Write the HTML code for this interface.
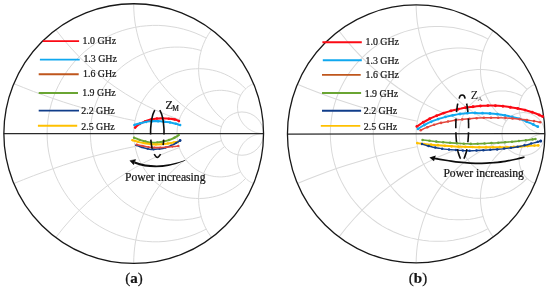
<!DOCTYPE html>
<html><head><meta charset="utf-8"><title>Smith chart</title>
<style>
html,body{margin:0;padding:0;background:#fff;}
svg{display:block;}
text{font-family:"Liberation Serif",serif;fill:#151515;stroke:#151515;stroke-width:0.22px;}
.ns{stroke:none;}
</style></head><body>
<svg width="550" height="290" viewBox="0 0 550 290">
<rect width="550" height="290" fill="#fff"/>
<g fill="none" stroke="#d9d9d9" stroke-width="1.0">
<path d="M206.3,38.1 L200.7,35.4 L195.0,32.9 L189.2,30.8 L183.3,29.1 L177.2,27.6 L171.1,26.6 L165.0,25.8 L158.8,25.4 L152.6,25.4 L146.4,25.8 L140.3,26.4 L134.2,27.5 L128.1,28.9 L122.2,30.6 L116.3,32.7 L110.6,35.1 L105.1,37.8 L99.7,40.8 L94.5,44.1 L89.4,47.8 L84.6,51.7 L80.1,55.9 L75.7,60.3 L71.7,65.0 L67.9,69.9 L64.4,75.0 L61.2,80.3 L58.3,85.8 L55.7,91.4 L53.5,97.2 L51.5,103.1 L50.0,109.0 L48.7,115.1 L47.8,121.2 L47.3,127.4 L47.1,133.6 L47.3,139.8 L47.8,146.0 L48.7,152.1 L50.0,158.2 L51.5,164.1 L53.5,170.0 L55.7,175.8 L58.3,181.4 L61.2,186.9 L64.4,192.2 L67.9,197.3 L71.7,202.2 L75.7,206.9 L80.1,211.3 L84.6,215.5 L89.4,219.4 L94.5,223.1 L99.7,226.4 L105.1,229.4 L110.6,232.1 L116.3,234.5 L122.2,236.6 L128.1,238.3 L134.2,239.7 L140.3,240.8 L146.4,241.4 L152.6,241.8 L158.8,241.8 L165.0,241.4 L171.1,240.6 L177.2,239.6 L183.3,238.1 L189.2,236.4 L195.0,234.3 L200.7,231.8 L206.3,229.1"/>
<path d="M201.2,50.5 L196.9,49.4 L192.5,48.4 L188.1,47.8 L183.7,47.3 L179.3,47.1 L174.8,47.1 L170.3,47.3 L165.9,47.7 L161.5,48.4 L157.1,49.3 L152.8,50.5 L148.6,51.8 L144.4,53.4 L140.3,55.2 L136.3,57.2 L132.4,59.4 L128.7,61.8 L125.0,64.3 L121.5,67.1 L118.2,70.1 L115.0,73.2 L112.0,76.4 L109.1,79.9 L106.4,83.4 L103.9,87.1 L101.7,91.0 L99.6,94.9 L97.7,98.9 L96.0,103.1 L94.5,107.3 L93.3,111.5 L92.2,115.9 L91.4,120.3 L90.9,124.7 L90.5,129.1 L90.4,133.6 L90.5,138.1 L90.9,142.5 L91.4,146.9 L92.2,151.3 L93.3,155.7 L94.5,159.9 L96.0,164.1 L97.7,168.3 L99.6,172.3 L101.7,176.2 L103.9,180.1 L106.4,183.8 L109.1,187.3 L112.0,190.8 L115.0,194.0 L118.2,197.1 L121.5,200.1 L125.0,202.9 L128.7,205.4 L132.4,207.8 L136.3,210.0 L140.3,212.0 L144.4,213.8 L148.6,215.4 L152.8,216.7 L157.1,217.9 L161.5,218.8 L165.9,219.5 L170.3,219.9 L174.8,220.1 L179.3,220.1 L183.7,219.9 L188.1,219.4 L192.5,218.8 L196.9,217.8 L201.2,216.7"/>
<path d="M245.6,88.8 L242.6,85.8 L239.3,83.0 L235.9,80.4 L232.3,78.1 L228.6,76.0 L224.7,74.1 L220.7,72.5 L216.6,71.2 L212.5,70.2 L208.2,69.4 L204.0,68.9 L199.7,68.7 L195.4,68.8 L191.1,69.1 L186.9,69.7 L182.7,70.7 L178.5,71.9 L174.5,73.3 L170.6,75.0 L166.8,77.0 L163.1,79.3 L159.6,81.7 L156.2,84.4 L153.1,87.3 L150.1,90.4 L147.4,93.7 L144.9,97.2 L142.6,100.8 L140.5,104.6 L138.7,108.5 L137.2,112.5 L136.0,116.6 L135.0,120.8 L134.3,125.0 L133.8,129.3 L133.7,133.6 L133.8,137.9 L134.3,142.2 L135.0,146.4 L136.0,150.6 L137.2,154.7 L138.7,158.7 L140.5,162.6 L142.6,166.4 L144.9,170.0 L147.4,173.5 L150.1,176.8 L153.1,179.9 L156.2,182.8 L159.6,185.5 L163.1,187.9 L166.8,190.2 L170.6,192.2 L174.5,193.9 L178.5,195.3 L182.7,196.5 L186.9,197.5 L191.1,198.1 L195.4,198.4 L199.7,198.5 L204.0,198.3 L208.2,197.8 L212.5,197.0 L216.6,196.0 L220.7,194.7 L224.7,193.1 L228.6,191.2 L232.3,189.1 L235.9,186.8 L239.3,184.2 L242.6,181.4 L245.6,178.4"/>
<path d="M240.6,95.4 L238.4,94.3 L236.1,93.3 L233.8,92.5 L231.4,91.8 L229.0,91.2 L226.6,90.8 L224.1,90.5 L221.7,90.3 L219.2,90.3 L216.7,90.5 L214.2,90.7 L211.8,91.2 L209.4,91.7 L207.0,92.4 L204.7,93.2 L202.4,94.2 L200.2,95.3 L198.0,96.5 L195.9,97.8 L193.9,99.3 L192.0,100.8 L190.2,102.5 L188.4,104.3 L186.8,106.2 L185.3,108.1 L183.9,110.2 L182.6,112.3 L181.4,114.5 L180.4,116.7 L179.5,119.0 L178.7,121.4 L178.1,123.8 L177.6,126.2 L177.3,128.7 L177.1,131.1 L177.0,133.6 L177.1,136.1 L177.3,138.5 L177.6,141.0 L178.1,143.4 L178.7,145.8 L179.5,148.2 L180.4,150.5 L181.4,152.7 L182.6,154.9 L183.9,157.0 L185.3,159.1 L186.8,161.0 L188.4,162.9 L190.2,164.7 L192.0,166.4 L193.9,167.9 L195.9,169.4 L198.0,170.7 L200.2,171.9 L202.4,173.0 L204.7,174.0 L207.0,174.8 L209.4,175.5 L211.8,176.0 L214.2,176.5 L216.7,176.7 L219.2,176.9 L221.7,176.9 L224.1,176.7 L226.6,176.4 L229.0,176.0 L231.4,175.4 L233.8,174.7 L236.1,173.9 L238.4,172.9 L240.6,171.8"/>
<circle cx="241.91" cy="133.6" r="21.64"/>
<path d="M13.8,83.7 L23.6,87.6 L33.5,91.5 L43.4,95.1 L53.4,98.6 L63.4,102.0 L73.5,105.2 L83.6,108.2 L93.8,111.0 L104.1,113.7 L114.3,116.2 L124.6,118.6 L135.0,120.7"/>
<path d="M13.8,183.5 L23.6,179.6 L33.5,175.7 L43.4,172.1 L53.4,168.6 L63.4,165.2 L73.5,162.0 L83.6,159.0 L93.8,156.2 L104.1,153.5 L114.3,151.0 L124.6,148.6 L135.0,146.5"/>
<path d="M55.8,29.7 L63.2,39.1 L71.0,48.1 L79.2,56.8 L87.7,65.0 L96.7,72.9 L106.0,80.4 L115.7,87.4 L125.6,93.9 L135.9,100.0 L146.4,105.7 L157.1,110.8 L168.1,115.4 L179.3,119.6"/>
<path d="M55.8,237.5 L63.2,228.1 L71.0,219.1 L79.2,210.4 L87.7,202.2 L96.7,194.3 L106.0,186.8 L115.7,179.8 L125.6,173.3 L135.9,167.2 L146.4,161.5 L157.1,156.4 L168.1,151.8 L179.3,147.6"/>
<path d="M133.7,3.7 L133.8,9.5 L134.2,15.2 L134.8,21.0 L135.7,26.6 L136.9,32.3 L138.3,37.9 L139.9,43.4 L141.8,48.8 L143.9,54.2 L146.2,59.4 L148.8,64.6 L151.6,69.6 L154.6,74.5 L157.9,79.2 L161.3,83.8 L165.0,88.3 L168.8,92.6 L172.8,96.7 L177.1,100.6 L181.4,104.3 L186.0,107.9 L190.6,111.2 L195.5,114.3 L200.4,117.2 L205.5,119.9 L210.7,122.4 L216.0,124.6 L221.4,126.6"/>
<path d="M133.7,263.4 L133.8,257.7 L134.2,252.0 L134.8,246.2 L135.7,240.6 L136.9,234.9 L138.3,229.3 L139.9,223.8 L141.8,218.4 L143.9,213.0 L146.2,207.8 L148.8,202.6 L151.6,197.6 L154.6,192.7 L157.9,188.0 L161.3,183.4 L165.0,178.9 L168.8,174.6 L172.8,170.5 L177.1,166.6 L181.4,162.9 L186.0,159.3 L190.6,156.0 L195.5,152.9 L200.4,150.0 L205.5,147.3 L210.7,144.8 L216.0,142.6 L221.4,140.6"/>
<path d="M211.6,29.7 L210.0,32.0 L208.4,34.4 L207.0,36.8 L205.6,39.3 L204.4,41.9 L203.3,44.5 L202.3,47.1 L201.4,49.8 L200.7,52.6 L200.0,55.3 L199.5,58.1 L199.1,60.9 L198.8,63.7 L198.7,66.6 L198.6,69.4 L198.7,72.2 L198.9,75.0 L199.3,77.9 L199.7,80.7 L200.3,83.4 L201.0,86.2 L201.8,88.9 L202.8,91.6 L203.8,94.2 L205.0,96.8 L206.3,99.3 L207.7,101.8 L209.2,104.2 L210.8,106.5 L212.5,108.8 L214.3,111.0 L216.2,113.1 L218.1,115.1 L220.2,117.0 L222.4,118.9 L224.6,120.6"/>
<path d="M211.6,237.5 L210.0,235.2 L208.4,232.8 L207.0,230.4 L205.6,227.9 L204.4,225.3 L203.3,222.7 L202.3,220.1 L201.4,217.4 L200.7,214.6 L200.0,211.9 L199.5,209.1 L199.1,206.3 L198.8,203.5 L198.7,200.6 L198.6,197.8 L198.7,195.0 L198.9,192.2 L199.3,189.3 L199.7,186.5 L200.3,183.8 L201.0,181.0 L201.8,178.3 L202.8,175.6 L203.8,173.0 L205.0,170.4 L206.3,167.9 L207.7,165.4 L209.2,163.0 L210.8,160.7 L212.5,158.4 L214.3,156.2 L216.2,154.1 L218.1,152.1 L220.2,150.2 L222.4,148.3 L224.6,146.6"/>
<path d="M253.6,83.7 L252.5,84.1 L251.5,84.6 L250.5,85.2 L249.5,85.8 L248.5,86.4 L247.6,87.1 L246.7,87.8 L245.9,88.6 L245.0,89.4 L244.2,90.3 L243.5,91.1 L242.8,92.0 L242.1,93.0 L241.5,93.9 L240.9,94.9 L240.4,95.9 L239.9,97.0 L239.4,98.0 L239.0,99.1 L238.7,100.2 L238.4,101.3 L238.1,102.4 L237.9,103.6 L237.7,104.7 L237.6,105.9 L237.6,107.0 L237.6,108.2 L237.6,109.3 L237.7,110.4 L237.9,111.6 L238.1,112.7 L238.3,113.8 L238.6,115.0 L239.0,116.1 L239.4,117.1 L239.8,118.2 L240.3,119.2 L240.9,120.3 L241.4,121.2 L242.1,122.2 L242.7,123.1 L243.4,124.1 L244.2,124.9 L245.0,125.8 L245.8,126.6 L246.6,127.3 L247.5,128.1 L248.5,128.8 L249.4,129.4 L250.4,130.0 L251.4,130.6 L252.4,131.1 L253.5,131.6 L254.5,132.0 L255.6,132.4 L256.7,132.7 L257.8,133.0 L259.0,133.2 L260.1,133.4 L261.3,133.5 L262.4,133.6 L263.5,133.6"/>
<path d="M253.6,183.5 L252.5,183.1 L251.5,182.6 L250.5,182.0 L249.5,181.4 L248.5,180.8 L247.6,180.1 L246.7,179.4 L245.9,178.6 L245.0,177.8 L244.2,176.9 L243.5,176.1 L242.8,175.2 L242.1,174.2 L241.5,173.3 L240.9,172.3 L240.4,171.3 L239.9,170.2 L239.4,169.2 L239.0,168.1 L238.7,167.0 L238.4,165.9 L238.1,164.8 L237.9,163.6 L237.7,162.5 L237.6,161.3 L237.6,160.2 L237.6,159.0 L237.6,157.9 L237.7,156.8 L237.9,155.6 L238.1,154.5 L238.3,153.4 L238.6,152.2 L239.0,151.1 L239.4,150.1 L239.8,149.0 L240.3,148.0 L240.9,146.9 L241.4,146.0 L242.1,145.0 L242.7,144.1 L243.4,143.1 L244.2,142.3 L245.0,141.4 L245.8,140.6 L246.6,139.9 L247.5,139.1 L248.5,138.4 L249.4,137.8 L250.4,137.2 L251.4,136.6 L252.4,136.1 L253.5,135.6 L254.5,135.2 L255.6,134.8 L256.7,134.5 L257.8,134.2 L259.0,134.0 L260.1,133.8 L261.3,133.7 L262.4,133.6 L263.5,133.6"/>
</g>
<line x1="3.8" y1="133.7" x2="263.6" y2="133.7" stroke="#2a2a2a" stroke-width="1.25"/>
<circle cx="133.7" cy="133.6" r="129.85" fill="none" stroke="#181818" stroke-width="1.3"/>
<g transform="translate(0,133.9) scale(1,1.0018) translate(0,-133.9)"><g fill="none" stroke="#d9d9d9" stroke-width="1.0">
<path d="M488.1,39.3 L482.6,36.5 L476.9,34.1 L471.2,32.0 L465.3,30.3 L459.3,28.9 L453.3,27.8 L447.2,27.1 L441.0,26.7 L434.9,26.7 L428.8,27.0 L422.7,27.7 L416.6,28.7 L410.6,30.1 L404.7,31.8 L398.9,33.9 L393.3,36.2 L387.8,38.9 L382.4,41.9 L377.2,45.2 L372.3,48.8 L367.5,52.7 L363.0,56.9 L358.7,61.3 L354.7,65.9 L350.9,70.7 L347.4,75.8 L344.3,81.1 L341.4,86.5 L338.8,92.1 L336.6,97.8 L334.7,103.6 L333.1,109.6 L331.9,115.6 L331.1,121.6 L330.5,127.8 L330.3,133.9 L330.5,140.0 L331.1,146.2 L331.9,152.2 L333.1,158.2 L334.7,164.2 L336.6,170.0 L338.8,175.7 L341.4,181.3 L344.3,186.7 L347.4,192.0 L350.9,197.1 L354.7,201.9 L358.7,206.5 L363.0,210.9 L367.5,215.1 L372.3,219.0 L377.2,222.6 L382.4,225.9 L387.8,228.9 L393.3,231.6 L398.9,233.9 L404.7,236.0 L410.6,237.7 L416.6,239.1 L422.7,240.1 L428.8,240.8 L434.9,241.1 L441.0,241.1 L447.2,240.7 L453.3,240.0 L459.3,238.9 L465.3,237.5 L471.2,235.8 L476.9,233.7 L482.6,231.3 L488.1,228.5"/>
<path d="M483.1,51.5 L478.8,50.4 L474.5,49.5 L470.1,48.8 L465.7,48.4 L461.3,48.1 L456.9,48.1 L452.5,48.4 L448.1,48.8 L443.7,49.5 L439.4,50.4 L435.1,51.5 L430.9,52.9 L426.8,54.4 L422.7,56.2 L418.7,58.2 L414.9,60.3 L411.2,62.7 L407.6,65.3 L404.1,68.0 L400.8,70.9 L397.6,74.0 L394.6,77.2 L391.8,80.6 L389.1,84.2 L386.7,87.8 L384.4,91.6 L382.3,95.5 L380.4,99.5 L378.8,103.6 L377.3,107.8 L376.1,112.0 L375.1,116.3 L374.3,120.7 L373.7,125.1 L373.4,129.5 L373.2,133.9 L373.4,138.3 L373.7,142.7 L374.3,147.1 L375.1,151.5 L376.1,155.8 L377.3,160.0 L378.8,164.2 L380.4,168.3 L382.3,172.3 L384.4,176.2 L386.7,180.0 L389.1,183.6 L391.8,187.2 L394.6,190.6 L397.6,193.8 L400.8,196.9 L404.1,199.8 L407.6,202.5 L411.2,205.1 L414.9,207.5 L418.7,209.6 L422.7,211.6 L426.8,213.4 L430.9,214.9 L435.1,216.3 L439.4,217.4 L443.7,218.3 L448.1,219.0 L452.5,219.4 L456.9,219.7 L461.3,219.7 L465.7,219.4 L470.1,219.0 L474.5,218.3 L478.8,217.4 L483.1,216.3"/>
<path d="M527.1,89.5 L524.1,86.5 L520.8,83.8 L517.4,81.2 L513.9,78.9 L510.2,76.8 L506.3,75.0 L502.4,73.4 L498.3,72.1 L494.2,71.0 L490.0,70.3 L485.8,69.8 L481.5,69.6 L477.3,69.6 L473.1,70.0 L468.8,70.6 L464.7,71.5 L460.6,72.7 L456.6,74.2 L452.7,75.9 L448.9,77.8 L445.3,80.0 L441.8,82.5 L438.5,85.1 L435.4,88.0 L432.4,91.1 L429.7,94.4 L427.2,97.8 L424.9,101.4 L422.9,105.2 L421.1,109.0 L419.6,113.0 L418.4,117.1 L417.4,121.2 L416.7,125.4 L416.3,129.6 L416.1,133.9 L416.3,138.2 L416.7,142.4 L417.4,146.6 L418.4,150.7 L419.6,154.8 L421.1,158.8 L422.9,162.6 L424.9,166.4 L427.2,170.0 L429.7,173.4 L432.4,176.7 L435.4,179.8 L438.5,182.7 L441.8,185.3 L445.3,187.8 L448.9,190.0 L452.7,191.9 L456.6,193.6 L460.6,195.1 L464.7,196.3 L468.8,197.2 L473.1,197.8 L477.3,198.2 L481.5,198.2 L485.8,198.0 L490.0,197.5 L494.2,196.8 L498.3,195.7 L502.4,194.4 L506.3,192.8 L510.2,191.0 L513.9,188.9 L517.4,186.6 L520.8,184.0 L524.1,181.3 L527.1,178.3"/>
<path d="M522.1,96.0 L519.9,95.0 L517.7,94.0 L515.4,93.2 L513.0,92.5 L510.6,91.9 L508.2,91.5 L505.8,91.2 L503.3,91.0 L500.9,91.0 L498.4,91.1 L496.0,91.4 L493.6,91.8 L491.2,92.4 L488.8,93.1 L486.5,93.9 L484.2,94.8 L482.0,95.9 L479.9,97.1 L477.8,98.4 L475.8,99.9 L473.9,101.4 L472.1,103.1 L470.4,104.8 L468.8,106.7 L467.3,108.6 L465.9,110.7 L464.6,112.8 L463.5,114.9 L462.4,117.2 L461.6,119.5 L460.8,121.8 L460.2,124.2 L459.7,126.6 L459.3,129.0 L459.1,131.4 L459.0,133.9 L459.1,136.4 L459.3,138.8 L459.7,141.2 L460.2,143.6 L460.8,146.0 L461.6,148.3 L462.4,150.6 L463.5,152.9 L464.6,155.0 L465.9,157.1 L467.3,159.2 L468.8,161.1 L470.4,163.0 L472.1,164.7 L473.9,166.4 L475.8,167.9 L477.8,169.4 L479.9,170.7 L482.0,171.9 L484.2,173.0 L486.5,173.9 L488.8,174.7 L491.2,175.4 L493.6,176.0 L496.0,176.4 L498.4,176.7 L500.9,176.8 L503.3,176.8 L505.8,176.6 L508.2,176.3 L510.6,175.9 L513.0,175.3 L515.4,174.6 L517.7,173.8 L519.9,172.8 L522.1,171.8"/>
<circle cx="523.40" cy="133.9" r="21.45"/>
<path d="M297.4,84.4 L307.1,88.4 L316.8,92.1 L326.7,95.8 L336.5,99.3 L346.5,102.6 L356.5,105.7 L366.5,108.7 L376.6,111.5 L386.8,114.2 L396.9,116.7 L407.2,119.0 L417.4,121.2"/>
<path d="M297.4,183.4 L307.1,179.4 L316.8,175.7 L326.7,172.0 L336.5,168.5 L346.5,165.2 L356.5,162.1 L366.5,159.1 L376.6,156.3 L386.8,153.6 L396.9,151.1 L407.2,148.8 L417.4,146.6"/>
<path d="M338.9,30.9 L346.2,40.2 L354.0,49.2 L362.1,57.8 L370.6,66.0 L379.5,73.8 L388.7,81.1 L398.3,88.1 L408.1,94.6 L418.3,100.6 L428.7,106.2 L439.4,111.3 L450.3,115.9 L461.4,120.0"/>
<path d="M338.9,236.9 L346.2,227.6 L354.0,218.6 L362.1,210.0 L370.6,201.8 L379.5,194.0 L388.7,186.7 L398.3,179.7 L408.1,173.2 L418.3,167.2 L428.7,161.6 L439.4,156.5 L450.3,151.9 L461.4,147.8"/>
<path d="M416.1,5.2 L416.3,10.9 L416.7,16.6 L417.3,22.3 L418.2,27.9 L419.3,33.5 L420.7,39.0 L422.3,44.5 L424.1,49.9 L426.2,55.2 L428.6,60.4 L431.1,65.5 L433.9,70.4 L436.9,75.3 L440.1,80.0 L443.5,84.6 L447.2,89.0 L451.0,93.2 L454.9,97.3 L459.1,101.2 L463.5,104.9 L467.9,108.4 L472.6,111.7 L477.4,114.8 L482.3,117.7 L487.3,120.3 L492.5,122.8 L497.8,125.0 L503.1,126.9"/>
<path d="M416.1,262.6 L416.3,256.9 L416.7,251.2 L417.3,245.5 L418.2,239.9 L419.3,234.3 L420.7,228.8 L422.3,223.3 L424.1,217.9 L426.2,212.6 L428.6,207.4 L431.1,202.3 L433.9,197.4 L436.9,192.5 L440.1,187.8 L443.5,183.2 L447.2,178.8 L451.0,174.6 L454.9,170.5 L459.1,166.6 L463.5,162.9 L467.9,159.4 L472.6,156.1 L477.4,153.0 L482.3,150.1 L487.3,147.5 L492.5,145.0 L497.8,142.8 L503.1,140.9"/>
<path d="M493.4,30.9 L491.7,33.2 L490.2,35.6 L488.8,38.0 L487.4,40.5 L486.2,43.0 L485.1,45.6 L484.1,48.2 L483.3,50.9 L482.5,53.6 L481.9,56.3 L481.4,59.1 L481.0,61.9 L480.7,64.6 L480.5,67.5 L480.5,70.3 L480.6,73.1 L480.8,75.9 L481.1,78.7 L481.6,81.4 L482.2,84.2 L482.9,86.9 L483.7,89.6 L484.6,92.2 L485.7,94.8 L486.8,97.4 L488.1,99.9 L489.5,102.3 L491.0,104.7 L492.5,107.0 L494.2,109.3 L496.0,111.5 L497.9,113.5 L499.9,115.5 L501.9,117.5 L504.0,119.3 L506.2,121.0"/>
<path d="M493.4,236.9 L491.7,234.6 L490.2,232.2 L488.8,229.8 L487.4,227.3 L486.2,224.8 L485.1,222.2 L484.1,219.6 L483.3,216.9 L482.5,214.2 L481.9,211.5 L481.4,208.7 L481.0,205.9 L480.7,203.2 L480.5,200.3 L480.5,197.5 L480.6,194.7 L480.8,191.9 L481.1,189.1 L481.6,186.4 L482.2,183.6 L482.9,180.9 L483.7,178.2 L484.6,175.6 L485.7,173.0 L486.8,170.4 L488.1,167.9 L489.5,165.5 L491.0,163.1 L492.5,160.8 L494.2,158.5 L496.0,156.3 L497.9,154.3 L499.9,152.3 L501.9,150.3 L504.0,148.5 L506.2,146.8"/>
<path d="M534.9,84.4 L533.9,84.9 L532.9,85.4 L531.9,85.9 L530.9,86.5 L530.0,87.2 L529.1,87.8 L528.2,88.6 L527.3,89.3 L526.5,90.1 L525.7,90.9 L525.0,91.8 L524.3,92.7 L523.6,93.6 L523.0,94.6 L522.4,95.6 L521.9,96.6 L521.4,97.6 L520.9,98.6 L520.5,99.7 L520.2,100.8 L519.9,101.9 L519.6,103.0 L519.4,104.1 L519.3,105.3 L519.2,106.4 L519.1,107.5 L519.1,108.7 L519.2,109.8 L519.3,111.0 L519.4,112.1 L519.6,113.2 L519.9,114.3 L520.2,115.4 L520.5,116.5 L520.9,117.6 L521.3,118.6 L521.8,119.7 L522.4,120.7 L522.9,121.7 L523.5,122.6 L524.2,123.5 L524.9,124.4 L525.7,125.3 L526.4,126.1 L527.2,126.9 L528.1,127.7 L529.0,128.4 L529.9,129.1 L530.8,129.7 L531.8,130.3 L532.8,130.9 L533.8,131.4 L534.9,131.9 L535.9,132.3 L537.0,132.7 L538.1,133.0 L539.2,133.3 L540.3,133.5 L541.4,133.7 L542.6,133.8 L543.7,133.9 L544.8,133.9"/>
<path d="M534.9,183.4 L533.9,182.9 L532.9,182.4 L531.9,181.9 L530.9,181.3 L530.0,180.6 L529.1,180.0 L528.2,179.2 L527.3,178.5 L526.5,177.7 L525.7,176.9 L525.0,176.0 L524.3,175.1 L523.6,174.2 L523.0,173.2 L522.4,172.2 L521.9,171.2 L521.4,170.2 L520.9,169.2 L520.5,168.1 L520.2,167.0 L519.9,165.9 L519.6,164.8 L519.4,163.7 L519.3,162.5 L519.2,161.4 L519.1,160.3 L519.1,159.1 L519.2,158.0 L519.3,156.8 L519.4,155.7 L519.6,154.6 L519.9,153.5 L520.2,152.4 L520.5,151.3 L520.9,150.2 L521.3,149.2 L521.8,148.1 L522.4,147.1 L522.9,146.1 L523.5,145.2 L524.2,144.3 L524.9,143.4 L525.7,142.5 L526.4,141.7 L527.2,140.9 L528.1,140.1 L529.0,139.4 L529.9,138.7 L530.8,138.1 L531.8,137.5 L532.8,136.9 L533.8,136.4 L534.9,135.9 L535.9,135.5 L537.0,135.1 L538.1,134.8 L539.2,134.5 L540.3,134.3 L541.4,134.1 L542.6,134.0 L543.7,133.9 L544.8,133.9"/>
</g>
<line x1="287.4" y1="134.1" x2="544.8" y2="133.55" stroke="#2a2a2a" stroke-width="1.25"/>
<circle cx="416.15" cy="133.9" r="128.7" fill="none" stroke="#181818" stroke-width="1.3"/></g>
<line x1="42.8" y1="41.1" x2="79.1" y2="41.1" stroke="#fb0a14" stroke-width="1.9"/>
<text x="82.6" y="43.6" font-size="9.9">1.0 GHz</text>
<line x1="39.9" y1="59.6" x2="79.7" y2="59.6" stroke="#10a8ef" stroke-width="1.9"/>
<text x="83.4" y="62.3" font-size="9.9">1.3 GHz</text>
<line x1="38.7" y1="74.3" x2="78.7" y2="74.3" stroke="#bf561c" stroke-width="1.9"/>
<text x="83.0" y="76.8" font-size="9.9">1.6 GHz</text>
<line x1="38.7" y1="93.0" x2="78.0" y2="93.0" stroke="#6aa533" stroke-width="1.9"/>
<text x="82.2" y="96.4" font-size="9.9">1.9 GHz</text>
<line x1="38.7" y1="110.6" x2="79.0" y2="110.6" stroke="#103d8a" stroke-width="1.9"/>
<text x="81.3" y="114.0" font-size="9.9">2.2 GHz</text>
<line x1="37.9" y1="125.7" x2="77.2" y2="125.7" stroke="#ffc000" stroke-width="1.9"/>
<text x="81.3" y="129.5" font-size="9.9">2.5 GHz</text>
<line x1="322.4" y1="42.2" x2="361.8" y2="42.2" stroke="#fb0a14" stroke-width="1.9"/>
<text x="365.5" y="44.7" font-size="9.9">1.0 GHz</text>
<line x1="322.8" y1="60.2" x2="361.8" y2="60.2" stroke="#10a8ef" stroke-width="1.9"/>
<text x="365.5" y="63.6" font-size="9.9">1.3 GHz</text>
<line x1="322.0" y1="74.9" x2="360.7" y2="74.9" stroke="#bf561c" stroke-width="1.9"/>
<text x="365.5" y="77.5" font-size="9.9">1.6 GHz</text>
<line x1="322.0" y1="93.0" x2="361.1" y2="93.0" stroke="#6aa533" stroke-width="1.9"/>
<text x="364.7" y="96.6" font-size="9.9">1.9 GHz</text>
<line x1="322.0" y1="110.8" x2="361.1" y2="110.8" stroke="#103d8a" stroke-width="1.9"/>
<text x="363.8" y="114.4" font-size="9.9">2.2 GHz</text>
<line x1="320.8" y1="125.9" x2="360.3" y2="125.9" stroke="#ffc000" stroke-width="1.9"/>
<text x="363.8" y="129.6" font-size="9.9">2.5 GHz</text>
<path d="M134.0,137.7 C134.8,138.0 137.2,139.0 138.9,139.6 C140.6,140.2 142.6,140.8 144.4,141.3 C146.2,141.8 148.0,142.2 149.8,142.4 C151.6,142.6 153.5,142.8 155.3,142.7 C157.1,142.6 158.9,142.3 160.7,142.0 C162.5,141.7 164.4,141.4 166.2,140.9 C168.0,140.4 170.0,139.8 171.6,139.1 C173.2,138.4 174.8,137.6 176.0,136.9 C177.2,136.2 178.2,135.4 178.7,135.1" fill="none" stroke="#6aa533" stroke-width="2.0" stroke-linecap="round" stroke-linejoin="round"/><g fill="#6aa533"><circle cx="134.0" cy="137.7" r="1.15"/><circle cx="139.6" cy="139.8" r="1.15"/><circle cx="145.4" cy="141.5" r="1.15"/><circle cx="151.3" cy="142.5" r="1.15"/><circle cx="157.3" cy="142.4" r="1.15"/><circle cx="163.2" cy="141.5" r="1.15"/><circle cx="169.0" cy="140.0" r="1.15"/><circle cx="174.5" cy="137.7" r="1.15"/><circle cx="178.7" cy="135.1" r="1.15"/></g>
<path d="M132.4,140.2 C133.5,140.5 136.9,141.6 138.9,142.1 C140.9,142.6 142.6,142.9 144.4,143.2 C146.2,143.5 148.0,143.8 149.8,144.0 C151.6,144.2 153.5,144.3 155.3,144.4 C157.1,144.5 158.9,144.4 160.7,144.3 C162.5,144.2 164.4,144.0 166.2,143.8 C168.0,143.6 170.0,143.2 171.6,142.9 C173.2,142.6 174.9,142.3 176.0,142.1 C177.1,141.9 177.8,141.9 178.2,141.8" fill="none" stroke="#ffc000" stroke-width="2.0" stroke-linecap="round" stroke-linejoin="round"/><g fill="#ffc000"><circle cx="132.4" cy="140.2" r="1.15"/><circle cx="138.2" cy="141.9" r="1.15"/><circle cx="144.0" cy="143.1" r="1.15"/><circle cx="150.0" cy="144.0" r="1.15"/><circle cx="155.9" cy="144.4" r="1.15"/><circle cx="161.9" cy="144.2" r="1.15"/><circle cx="167.9" cy="143.5" r="1.15"/><circle cx="173.8" cy="142.5" r="1.15"/><circle cx="178.2" cy="141.8" r="1.15"/></g>
<path d="M136.2,145.3 C136.8,145.5 138.6,146.2 140.0,146.7 C141.4,147.2 142.8,147.7 144.4,148.1 C146.0,148.5 148.4,149.0 149.8,149.2 C151.2,149.4 151.8,149.4 153.1,149.4 C154.4,149.4 155.8,149.3 157.4,149.1 C159.0,148.9 161.1,148.8 162.9,148.4 C164.7,148.0 166.7,147.3 168.3,146.7 C169.9,146.1 171.2,145.6 172.7,144.9 C174.2,144.2 175.9,143.1 177.1,142.4 C178.3,141.7 179.6,140.8 180.1,140.5" fill="none" stroke="#103d8a" stroke-width="1.5" stroke-linecap="round" stroke-linejoin="round"/><g fill="#103d8a"><circle cx="136.2" cy="145.3" r="1.05"/><circle cx="141.9" cy="147.3" r="1.05"/><circle cx="147.7" cy="148.8" r="1.05"/><circle cx="153.6" cy="149.4" r="1.05"/><circle cx="159.6" cy="148.8" r="1.05"/><circle cx="165.4" cy="147.6" r="1.05"/><circle cx="171.1" cy="145.6" r="1.05"/><circle cx="176.4" cy="142.8" r="1.05"/><circle cx="180.1" cy="140.5" r="1.05"/></g>
<path d="M136.7,144.5 C137.4,144.7 139.5,145.2 141.1,145.6 C142.7,146.0 144.7,146.4 146.5,146.7 C148.3,147.0 150.2,147.3 152.0,147.5 C153.8,147.7 155.6,147.6 157.4,147.6 C159.2,147.6 161.1,147.6 162.9,147.5 C164.7,147.4 166.5,147.2 168.3,147.0 C170.1,146.8 172.1,146.7 173.8,146.5 C175.5,146.3 177.6,146.1 178.4,146.0" fill="none" stroke="#e2473d" stroke-width="1.6" stroke-linecap="round" stroke-linejoin="round"/><g fill="#e2473d"><circle cx="136.7" cy="144.5" r="1.05"/><circle cx="142.5" cy="145.9" r="1.05"/><circle cx="148.4" cy="147.0" r="1.05"/><circle cx="154.4" cy="147.5" r="1.05"/><circle cx="160.4" cy="147.5" r="1.05"/><circle cx="166.4" cy="147.2" r="1.05"/><circle cx="172.4" cy="146.6" r="1.05"/><circle cx="178.3" cy="146.0" r="1.05"/><circle cx="178.4" cy="146.0" r="1.05"/></g>
<path d="M135.1,127.6 C135.7,127.1 137.3,125.4 138.9,124.4 C140.5,123.4 142.6,122.4 144.4,121.6 C146.2,120.8 148.0,120.3 149.8,119.8 C151.6,119.3 153.5,118.9 155.3,118.7 C157.1,118.5 158.9,118.4 160.7,118.4 C162.5,118.4 164.4,118.4 166.2,118.5 C168.0,118.6 170.0,118.7 171.6,118.9 C173.2,119.1 174.8,119.4 176.0,119.8 C177.2,120.2 178.5,120.9 179.0,121.1" fill="none" stroke="#fb0a14" stroke-width="2.1" stroke-linecap="round" stroke-linejoin="round"/><g fill="#fb0a14"><circle cx="135.1" cy="127.6" r="1.25"/><circle cx="139.8" cy="123.9" r="1.25"/><circle cx="145.2" cy="121.3" r="1.25"/><circle cx="150.9" cy="119.6" r="1.25"/><circle cx="156.9" cy="118.6" r="1.25"/><circle cx="162.9" cy="118.4" r="1.25"/><circle cx="168.8" cy="118.7" r="1.25"/><circle cx="174.8" cy="119.5" r="1.25"/><circle cx="179.0" cy="121.1" r="1.25"/></g>
<path d="M134.5,124.9 C135.2,124.7 137.2,124.0 138.9,123.6 C140.6,123.1 142.6,122.6 144.4,122.2 C146.2,121.8 148.0,121.5 149.8,121.3 C151.6,121.1 153.5,121.1 155.3,121.1 C157.1,121.1 158.9,121.1 160.7,121.3 C162.5,121.5 164.4,121.8 166.2,122.0 C168.0,122.2 170.0,122.4 171.6,122.7 C173.2,123.0 174.6,123.4 176.0,123.8 C177.4,124.2 179.4,124.9 180.1,125.1" fill="none" stroke="#10a8ef" stroke-width="2.1" stroke-linecap="round" stroke-linejoin="round"/><g fill="#10a8ef"><circle cx="134.5" cy="124.9" r="1.25"/><circle cx="140.3" cy="123.3" r="1.25"/><circle cx="146.1" cy="121.9" r="1.25"/><circle cx="152.1" cy="121.2" r="1.25"/><circle cx="158.1" cy="121.2" r="1.25"/><circle cx="164.0" cy="121.7" r="1.25"/><circle cx="170.0" cy="122.5" r="1.25"/><circle cx="175.8" cy="123.8" r="1.25"/><circle cx="180.1" cy="125.1" r="1.25"/></g>
<circle cx="180.1" cy="140.5" r="1.4" fill="#103d8a"/>
<path d="M154.2,154.2 Q156.1,157.5 157.35,157.5 Q158.6,157.5 160.6,154.2 M150.6,134.5 L150.6,132.3 L150.6,130.1 L150.7,127.9 L150.9,125.8 L151.1,123.7 L151.3,121.7 L151.6,119.8 L152.0,118.0 L152.4,116.4 L152.8,114.8 L153.3,113.4 L153.8,112.2 L154.3,111.1 L154.8,110.2 M159.8,110.2 L160.3,111.1 L160.8,112.2 L161.3,113.4 L161.8,114.8 L162.2,116.4 L162.6,118.0 L163.0,119.8 L163.3,121.7 L163.5,123.7 L163.7,125.8 L163.9,127.9 L164.0,130.1 L164.0,132.3 L164.0,134.5 M150.8,139.6 L150.9,140.3 L151.0,141.0 L151.0,141.8 L151.1,142.5 L151.2,143.2 L151.3,143.8 L151.4,144.5 L151.5,145.2 L151.6,145.8 L151.7,146.5 L151.8,147.1 L151.9,147.7 L152.1,148.3 L152.2,148.9 M163.8,139.6 L163.7,140.0 L163.7,140.4 L163.7,140.8 L163.6,141.2 L163.6,141.6 L163.5,142.0 L163.5,142.4 L163.4,142.8 L163.4,143.2 L163.3,143.6 L163.3,144.0 L163.2,144.4 L163.2,144.7 L163.1,145.1" fill="none" stroke="#0d0d0d" stroke-width="1.6"/>
<path d="M185.3,160.0 Q157.5,170.0 134.9,161.6 L134.3,163.5 Q157.5,172.4 185.1,160.8 Z" fill="#0d0d0d"/>
<path d="M129.9,160.7 L135.6,159.5 L133.6,164.7 Z" fill="#0d0d0d" stroke="#0d0d0d" stroke-width="0.5" stroke-linejoin="round"/>
<text x="125" y="180.5" font-size="11.65" fill="#111">Power increasing</text>
<text x="165.6" y="108.8" font-size="12.2">Z<tspan font-size="7.5" dy="1.9" dx="-0.7">M</tspan></text>
<path d="M422.6,140.0 C423.8,140.1 427.3,140.5 429.6,140.8 C431.9,141.1 434.2,141.3 436.6,141.6 C439.0,141.8 441.4,142.1 443.7,142.3 C446.0,142.5 448.4,142.7 450.7,142.9 C453.0,143.1 455.3,143.3 457.7,143.4 C460.1,143.5 462.4,143.6 464.8,143.7 C467.2,143.8 470.0,144.0 472.0,144.0 C474.0,144.0 475.0,143.9 477.0,143.8 C479.0,143.7 481.8,143.6 484.1,143.5 C486.5,143.4 488.8,143.2 491.1,143.1 C493.4,143.0 495.8,142.9 498.1,142.8 C500.5,142.7 502.8,142.5 505.2,142.3 C507.6,142.1 509.9,141.9 512.2,141.7 C514.5,141.5 516.9,141.2 519.2,141.0 C521.6,140.8 523.6,140.5 526.3,140.2 C529.0,139.9 533.9,139.2 535.4,139.0" fill="none" stroke="#6aa533" stroke-width="1.6" stroke-linecap="round" stroke-linejoin="round"/><g fill="#6aa533"><circle cx="422.6" cy="140.0" r="1.3"/><circle cx="429.5" cy="140.8" r="1.3"/><circle cx="436.3" cy="141.6" r="1.3"/><circle cx="443.2" cy="142.2" r="1.3"/><circle cx="450.1" cy="142.8" r="1.3"/><circle cx="456.9" cy="143.3" r="1.3"/><circle cx="463.8" cy="143.7" r="1.3"/><circle cx="470.7" cy="143.9" r="1.3"/><circle cx="477.6" cy="143.8" r="1.3"/><circle cx="484.5" cy="143.5" r="1.3"/><circle cx="491.4" cy="143.1" r="1.3"/><circle cx="498.3" cy="142.8" r="1.3"/><circle cx="505.2" cy="142.3" r="1.3"/><circle cx="512.0" cy="141.7" r="1.3"/><circle cx="518.9" cy="141.0" r="1.3"/><circle cx="525.8" cy="140.3" r="1.3"/><circle cx="532.6" cy="139.4" r="1.3"/><circle cx="535.4" cy="139.0" r="1.3"/></g>
<path d="M417.3,143.1 C418.4,143.2 421.4,143.7 423.7,144.0 C425.9,144.3 428.4,144.5 430.8,144.7 C433.2,144.9 435.5,145.0 437.8,145.2 C440.1,145.4 442.5,145.6 444.8,145.8 C447.1,146.0 449.5,146.2 451.9,146.3 C454.2,146.5 456.6,146.6 458.9,146.7 C461.2,146.8 463.7,146.8 465.9,146.9 C468.1,147.0 469.8,146.9 472.0,147.0 C474.2,147.1 476.6,147.2 479.4,147.2 C482.2,147.2 485.7,147.2 488.8,147.2 C491.9,147.2 495.0,147.2 498.1,147.2 C501.2,147.2 504.4,147.2 507.5,147.1 C510.6,147.0 514.2,146.8 516.9,146.7 C519.6,146.6 521.7,146.4 523.9,146.3 C526.1,146.2 527.6,146.1 530.0,145.9 C532.4,145.8 536.9,145.5 538.3,145.4" fill="none" stroke="#ffc000" stroke-width="1.9" stroke-linecap="round" stroke-linejoin="round"/><g fill="#ffc000"><circle cx="417.3" cy="143.1" r="1.35"/><circle cx="424.1" cy="144.0" r="1.35"/><circle cx="431.0" cy="144.7" r="1.35"/><circle cx="437.9" cy="145.2" r="1.35"/><circle cx="444.8" cy="145.8" r="1.35"/><circle cx="451.6" cy="146.3" r="1.35"/><circle cx="458.5" cy="146.7" r="1.35"/><circle cx="465.4" cy="146.9" r="1.35"/><circle cx="472.3" cy="147.0" r="1.35"/><circle cx="479.2" cy="147.2" r="1.35"/><circle cx="486.1" cy="147.2" r="1.35"/><circle cx="493.0" cy="147.2" r="1.35"/><circle cx="499.9" cy="147.2" r="1.35"/><circle cx="506.8" cy="147.1" r="1.35"/><circle cx="513.7" cy="146.8" r="1.35"/><circle cx="520.6" cy="146.5" r="1.35"/><circle cx="527.5" cy="146.1" r="1.35"/><circle cx="534.4" cy="145.6" r="1.35"/><circle cx="538.3" cy="145.4" r="1.35"/></g>
<path d="M422.0,144.1 C422.9,144.4 425.3,145.3 427.2,145.8 C429.1,146.3 431.0,146.8 433.1,147.2 C435.2,147.6 437.8,148.0 440.1,148.4 C442.5,148.8 444.9,149.2 447.2,149.4 C449.5,149.7 451.9,149.7 454.2,149.9 C456.5,150.1 458.8,150.2 461.2,150.4 C463.6,150.6 466.5,150.7 468.3,150.8 C470.1,150.9 470.6,150.9 472.0,150.8 C473.4,150.8 475.0,150.6 477.0,150.5 C479.0,150.4 481.8,150.3 484.1,150.2 C486.5,150.1 488.8,150.0 491.1,149.8 C493.4,149.7 495.8,149.5 498.1,149.3 C500.5,149.1 502.8,148.8 505.2,148.5 C507.6,148.2 509.9,148.0 512.2,147.7 C514.5,147.4 517.1,146.9 519.2,146.5 C521.4,146.1 523.3,145.6 525.1,145.2 C526.9,144.8 528.5,144.4 530.0,144.0 C531.5,143.6 532.2,143.3 534.0,142.8 C535.8,142.3 539.6,141.4 540.7,141.1" fill="none" stroke="#103d8a" stroke-width="1.4" stroke-linecap="round" stroke-linejoin="round"/><g fill="#103d8a"><circle cx="422.0" cy="144.1" r="1.25"/><circle cx="428.6" cy="146.1" r="1.25"/><circle cx="435.3" cy="147.6" r="1.25"/><circle cx="442.1" cy="148.7" r="1.25"/><circle cx="449.0" cy="149.5" r="1.25"/><circle cx="455.9" cy="150.0" r="1.25"/><circle cx="462.8" cy="150.5" r="1.25"/><circle cx="469.6" cy="150.8" r="1.25"/><circle cx="476.5" cy="150.5" r="1.25"/><circle cx="483.4" cy="150.2" r="1.25"/><circle cx="490.3" cy="149.8" r="1.25"/><circle cx="497.2" cy="149.4" r="1.25"/><circle cx="504.1" cy="148.6" r="1.25"/><circle cx="510.9" cy="147.8" r="1.25"/><circle cx="517.7" cy="146.8" r="1.25"/><circle cx="524.5" cy="145.3" r="1.25"/><circle cx="531.2" cy="143.6" r="1.25"/><circle cx="537.8" cy="141.8" r="1.25"/><circle cx="540.7" cy="141.1" r="1.25"/></g>
<path d="M416.9,126.4 C417.9,125.8 421.0,123.7 422.9,122.5 C424.8,121.3 426.6,120.4 428.4,119.5 C430.2,118.6 432.0,117.7 433.8,116.9 C435.6,116.1 437.5,115.4 439.3,114.7 C441.1,114.0 442.9,113.3 444.7,112.7 C446.5,112.1 448.4,111.6 450.2,111.1 C452.0,110.6 453.8,110.1 455.6,109.7 C457.4,109.3 459.3,108.9 461.1,108.6 C462.9,108.2 464.7,107.9 466.5,107.6 C468.3,107.3 470.3,107.1 472.0,106.9 C473.7,106.7 474.6,106.5 476.5,106.3 C478.4,106.1 480.7,105.9 483.1,105.8 C485.5,105.7 488.1,105.5 490.7,105.5 C493.2,105.5 495.8,105.6 498.4,105.8 C500.9,106.0 503.5,106.3 506.0,106.6 C508.5,106.9 511.2,107.3 513.6,107.7 C516.0,108.1 518.0,108.5 520.4,109.0 C522.8,109.5 525.6,110.2 528.2,110.9 C530.8,111.7 533.5,112.6 535.9,113.5 C538.3,114.4 541.5,116.0 542.6,116.5" fill="none" stroke="#fb0a14" stroke-width="2.05" stroke-linecap="round" stroke-linejoin="round"/><g fill="#fb0a14"><circle cx="416.9" cy="126.4" r="1.45"/><circle cx="423.2" cy="122.3" r="1.45"/><circle cx="429.8" cy="118.8" r="1.45"/><circle cx="436.7" cy="115.8" r="1.45"/><circle cx="443.7" cy="113.1" r="1.45"/><circle cx="450.9" cy="110.9" r="1.45"/><circle cx="458.1" cy="109.2" r="1.45"/><circle cx="465.5" cy="107.8" r="1.45"/><circle cx="472.9" cy="106.8" r="1.45"/><circle cx="480.4" cy="106.0" r="1.45"/><circle cx="487.9" cy="105.6" r="1.45"/><circle cx="495.4" cy="105.7" r="1.45"/><circle cx="502.9" cy="106.3" r="1.45"/><circle cx="510.3" cy="107.2" r="1.45"/><circle cx="517.7" cy="108.5" r="1.45"/><circle cx="525.0" cy="110.1" r="1.45"/><circle cx="532.2" cy="112.2" r="1.45"/><circle cx="539.2" cy="115.0" r="1.45"/><circle cx="542.6" cy="116.5" r="1.45"/></g>
<path d="M418.0,128.9 C418.8,128.4 421.2,126.8 422.9,125.8 C424.6,124.8 426.6,123.8 428.4,122.9 C430.2,122.1 432.0,121.4 433.8,120.7 C435.6,120.0 437.5,119.3 439.3,118.7 C441.1,118.1 442.9,117.6 444.7,117.1 C446.5,116.6 448.4,116.2 450.2,115.8 C452.0,115.4 453.8,115.0 455.6,114.7 C457.4,114.4 459.3,114.0 461.1,113.8 C462.9,113.6 464.7,113.4 466.5,113.3 C468.3,113.2 470.0,112.9 472.0,112.9 C474.0,112.9 476.3,113.1 478.7,113.2 C481.1,113.3 483.8,113.2 486.4,113.3 C488.9,113.4 491.5,113.6 494.0,113.8 C496.5,114.0 499.1,114.3 501.6,114.7 C504.2,115.1 506.8,115.7 509.3,116.2 C511.8,116.8 514.4,117.4 516.6,118.0 C518.8,118.6 520.5,119.2 522.4,119.9 C524.3,120.6 526.3,121.5 528.2,122.3 C530.1,123.1 532.4,124.1 534.0,124.8 C535.6,125.5 537.2,126.4 537.8,126.7" fill="none" stroke="#10a8ef" stroke-width="1.9" stroke-linecap="round" stroke-linejoin="round"/><g fill="#10a8ef"><circle cx="418.0" cy="128.9" r="1.4"/><circle cx="424.4" cy="125.0" r="1.4"/><circle cx="431.2" cy="121.8" r="1.4"/><circle cx="438.2" cy="119.1" r="1.4"/><circle cx="445.4" cy="116.9" r="1.4"/><circle cx="452.7" cy="115.3" r="1.4"/><circle cx="460.0" cy="114.0" r="1.4"/><circle cx="467.5" cy="113.2" r="1.4"/><circle cx="475.0" cy="113.0" r="1.4"/><circle cx="482.5" cy="113.2" r="1.4"/><circle cx="490.0" cy="113.5" r="1.4"/><circle cx="497.4" cy="114.2" r="1.4"/><circle cx="504.9" cy="115.3" r="1.4"/><circle cx="512.2" cy="116.9" r="1.4"/><circle cx="519.4" cy="118.9" r="1.4"/><circle cx="526.4" cy="121.6" r="1.4"/><circle cx="533.3" cy="124.5" r="1.4"/><circle cx="537.8" cy="126.7" r="1.4"/></g>
<path d="M420.7,130.2 C421.4,129.9 423.5,128.9 425.1,128.2 C426.7,127.5 428.7,126.7 430.5,126.0 C432.3,125.3 434.2,124.7 436.0,124.2 C437.8,123.7 439.6,123.2 441.4,122.8 C443.2,122.4 445.1,122.0 446.9,121.7 C448.7,121.4 450.5,121.0 452.3,120.7 C454.1,120.4 456.0,120.1 457.8,119.9 C459.6,119.7 461.5,119.5 463.3,119.3 C465.1,119.1 467.2,118.9 468.7,118.8 C470.1,118.7 470.3,118.6 472.0,118.5 C473.7,118.4 476.1,118.1 478.7,118.0 C481.3,117.9 484.5,117.8 487.4,117.7 C490.3,117.7 493.3,117.7 496.2,117.7 C499.1,117.7 502.1,117.8 504.9,117.9 C507.6,118.0 510.1,118.3 512.7,118.5 C515.3,118.7 517.8,119.0 520.4,119.3 C523.0,119.6 525.6,119.8 528.2,120.2 C530.8,120.6 533.9,121.1 535.9,121.4 C537.9,121.8 539.5,122.2 540.2,122.3" fill="none" stroke="#e2473d" stroke-width="1.45" stroke-linecap="round" stroke-linejoin="round"/><g fill="#e2473d"><circle cx="420.7" cy="130.2" r="1.3"/><circle cx="427.3" cy="127.3" r="1.3"/><circle cx="434.1" cy="124.8" r="1.3"/><circle cx="441.0" cy="122.9" r="1.3"/><circle cx="448.0" cy="121.5" r="1.3"/><circle cx="455.1" cy="120.3" r="1.3"/><circle cx="462.3" cy="119.4" r="1.3"/><circle cx="469.5" cy="118.7" r="1.3"/><circle cx="476.6" cy="118.2" r="1.3"/><circle cx="483.8" cy="117.8" r="1.3"/><circle cx="491.0" cy="117.7" r="1.3"/><circle cx="498.2" cy="117.7" r="1.3"/><circle cx="505.4" cy="117.9" r="1.3"/><circle cx="512.6" cy="118.5" r="1.3"/><circle cx="519.8" cy="119.2" r="1.3"/><circle cx="526.9" cy="120.1" r="1.3"/><circle cx="534.0" cy="121.1" r="1.3"/><circle cx="540.2" cy="122.3" r="1.3"/></g>
<circle cx="540.7" cy="141.1" r="1.5" fill="#103d8a"/>
<path d="M459.2,98.7 C459.5,96.0 460.5,95.0 462.15,95.0 C463.8,95.0 464.8,96.0 465.1,98.7 M457.8,103.6 L457.7,104.1 L457.5,104.7 L457.4,105.3 L457.3,105.8 L457.2,106.4 L457.2,107.0 L457.1,107.6 L457.0,108.3 L456.9,108.9 L456.8,109.5 L456.7,110.2 L456.6,110.8 L456.6,111.5 L456.5,112.2 M466.6,103.6 L466.7,104.1 L466.9,104.7 L467.0,105.3 L467.1,105.8 L467.2,106.4 L467.2,107.0 L467.3,107.6 L467.4,108.3 L467.5,108.9 L467.6,109.5 L467.7,110.2 L467.8,110.8 L467.8,111.5 L467.9,112.2 M456.0,118.6 L456.0,119.3 L456.0,119.9 L455.9,120.6 L455.9,121.3 L455.9,122.0 L455.9,122.7 L455.8,123.4 L455.8,124.0 L455.8,124.7 L455.8,125.4 L455.8,126.1 L455.8,126.8 L455.8,127.5 L455.8,128.2 M468.4,118.6 L468.4,119.3 L468.4,119.9 L468.5,120.6 L468.5,121.3 L468.5,122.0 L468.5,122.7 L468.6,123.4 L468.6,124.0 L468.6,124.7 L468.6,125.4 L468.6,126.1 L468.6,126.8 L468.6,127.5 L468.6,128.2 M455.9,132.2 L455.9,132.9 L455.9,133.7 L456.0,134.4 L456.0,135.2 L456.0,135.9 L456.1,136.6 L456.1,137.3 L456.2,138.1 L456.2,138.8 L456.3,139.5 L456.3,140.2 L456.4,140.8 L456.5,141.5 L456.5,142.2 M468.5,132.2 L468.5,132.9 L468.5,133.7 L468.4,134.4 L468.4,135.2 L468.4,135.9 L468.3,136.6 L468.3,137.3 L468.2,138.1 L468.2,138.8 L468.1,139.5 L468.1,140.2 L468.0,140.8 L467.9,141.5 L467.9,142.2 M457.5,149.2 L457.7,150.2 L457.9,151.1 L458.1,152.0 L458.3,152.8 L458.5,153.6 L458.8,154.4 L459.0,155.1 L459.2,155.7 L459.5,156.3 L459.7,156.9 L459.9,157.4 L460.2,157.9 L460.4,158.3 L460.7,158.6 M466.9,149.2 L466.7,150.2 L466.5,151.1 L466.3,152.0 L466.1,152.8 L465.9,153.6 L465.6,154.4 L465.4,155.1 L465.2,155.7 L464.9,156.3 L464.7,156.9 L464.5,157.4 L464.2,157.9 L464.0,158.3 L463.7,158.6" fill="none" stroke="#0d0d0d" stroke-width="1.6"/>
<path d="M434.3,158.4 C436.4,158.8 443.1,159.9 447.2,160.5 C451.3,161.1 455.1,161.8 458.9,162.2 C462.7,162.6 466.2,162.9 470.0,163.1 C473.8,163.3 477.8,163.5 481.7,163.4 C485.6,163.3 489.5,163.0 493.4,162.7 C497.3,162.3 501.3,161.9 505.2,161.3 C509.1,160.7 513.7,159.7 516.9,159.0 C520.1,158.3 523.2,157.3 524.5,157.0" fill="none" stroke="#0d0d0d" stroke-width="1.7"/>
<path d="M429.4,157.6 L435.8,155.6 L434.0,161.2 Z" fill="#0d0d0d"/>
<text x="443.4" y="177" font-size="11.65" fill="#111">Power increasing</text>
<text class="ns" x="470.8" y="99.1" font-size="12" fill="#3a3a3a">Z<tspan font-size="7.0" dy="2.3" dx="-0.6" fill="#686868">A</tspan></text>
<text x="134.1" y="282.7" font-size="15" text-anchor="middle" fill="#111">(<tspan font-weight="bold">a</tspan>)</text>
<text x="418" y="282.7" font-size="15" text-anchor="middle" fill="#111">(<tspan font-weight="bold">b</tspan>)</text>
</svg>
</body></html>
